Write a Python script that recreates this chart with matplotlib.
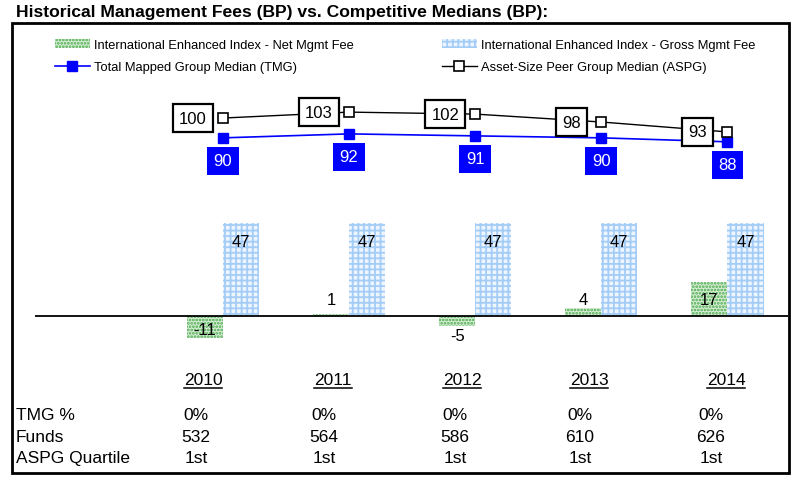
import matplotlib
matplotlib.use("Agg")
import matplotlib.pyplot as plt
import numpy as np
from matplotlib.patches import Rectangle
from matplotlib.lines import Line2D

plt.rcParams["font.family"] = ["Liberation Sans", "DejaVu Sans"]
plt.rcParams["hatch.linewidth"] = 1.3

# Data
years = ["2010", "2011", "2012", "2013", "2014"]
net_fee = [-11, 1, -5, 4, 17]
gross_fee = [47, 47, 47, 47, 47]
tmg_median = [90, 92, 91, 90, 88]
aspg_median = [100, 103, 102, 98, 93]

tmg_pct = ["0%", "0%", "0%", "0%", "0%"]
funds = ["532", "564", "586", "610", "626"]
aspg_quartile = ["1st", "1st", "1st", "1st", "1st"]

W, H = 800, 481


def fx(px):
    return px / W


def fy(py):
    return 1 - py / H


fig = plt.figure(figsize=(W / 100, H / 100), dpi=100)
ax = fig.add_axes([fx(35), fy(345), fx(788) - fx(35), fy(24) - fy(345)])

x = np.arange(len(years))
bw = 0.286

net_bars = ax.bar(x - bw / 2, net_fee, bw, color="#d6eed6", edgecolor="#4aa84a",
                  hatch=".....", linewidth=0,
                  label="International Enhanced Index - Net Mgmt Fee")
gross_bars = ax.bar(x + bw / 2, gross_fee, bw, color="#eef5ff", edgecolor="#a3cdf7",
                    hatch="+++", linewidth=0,
                    label="International Enhanced Index - Gross Mgmt Fee")

ax.axhline(0, color="black", lw=1.3, zorder=3)

tmg_line, = ax.plot(x, tmg_median, color="#0000ff", lw=1.2, marker="s", ms=7,
                    mfc="#0000ff", mec="#0000ff", zorder=4,
                    label="Total Mapped Group Median (TMG)")
aspg_line, = ax.plot(x, aspg_median, color="black", lw=1.0, marker="s", ms=7,
                     mfc="white", mec="black", mew=1.2, zorder=4,
                     label="Asset-Size Peer Group Median (ASPG)")

# point labels
for i, v in enumerate(aspg_median):
    ax.annotate(str(v), (i, v), xytext=(-30, 0), textcoords="offset pixels",
                ha="center", va="center", fontsize=12, zorder=6,
                bbox=dict(boxstyle="square,pad=0.38", fc="white", ec="black", lw=1.6))
for i, v in enumerate(tmg_median):
    ax.annotate(str(v), (i, v), xytext=(0, -23), textcoords="offset pixels",
                ha="center", va="center", fontsize=12, color="white", zorder=6,
                bbox=dict(boxstyle="square,pad=0.4", fc="#0000ff", ec="#0000ff", lw=0))

for i, v in enumerate(gross_fee):
    ax.annotate(str(v), (i + bw / 2, v), xytext=(0, -18), textcoords="offset pixels",
                ha="center", va="center", fontsize=12, zorder=5)
for i, v in enumerate(net_fee):
    if v >= 0:
        off = 17
    elif v < -8:
        off = -13
    else:
        off = -19
    ax.annotate(str(v), (i - bw / 2, 0), xytext=(0, off), textcoords="offset pixels",
                ha="center", va="center", fontsize=12, zorder=5)

ax.set_xlim(-1.49, 4.48)
ax.set_ylim(-14.1, 148)
ax.axis("off")

# legend
fig.legend(handles=[net_bars, tmg_line, gross_bars, aspg_line], ncol=2,
           loc="upper left", bbox_to_anchor=(fx(55), fy(40)), frameon=False,
           fontsize=9.3, handlelength=2.7, handletextpad=0.35,
           columnspacing=6.8, labelspacing=0.8, borderpad=0, borderaxespad=0)

# title and frame
fig.text(fx(16), fy(13), "Historical Management Fees (BP) vs. Competitive Medians (BP):",
         fontsize=12.6, fontweight="bold", ha="left", va="center")
fig.add_artist(Rectangle((fx(12), fy(474)), fx(789) - fx(12), fy(24) - fy(474),
                         transform=fig.transFigure, fill=False, ec="black", lw=2))

# table below the chart
year_x = [203, 333, 462, 589, 726]
val_x = [196, 324, 455, 580, 711]
rows = [("TMG %", tmg_pct, 416), ("Funds", funds, 438), ("ASPG Quartile", aspg_quartile, 459)]

renderer = fig.canvas.get_renderer()
for px, yr in zip(year_x, years):
    t = fig.text(fx(px), fy(381), yr, fontsize=12.5, ha="center", va="center")
    bb = t.get_window_extent(renderer)
    fig.add_artist(Line2D([bb.x0 / W, bb.x1 / W], [fy(388.5), fy(388.5)],
                          transform=fig.transFigure, color="black", lw=1.1))

for label, vals, py in rows:
    fig.text(fx(16), fy(py), label, fontsize=12.5, ha="left", va="center")
    for px, v in zip(val_x, vals):
        fig.text(fx(px), fy(py), v, fontsize=12.5, ha="center", va="center")

fig.savefig("out.png", dpi=100, facecolor="white")
